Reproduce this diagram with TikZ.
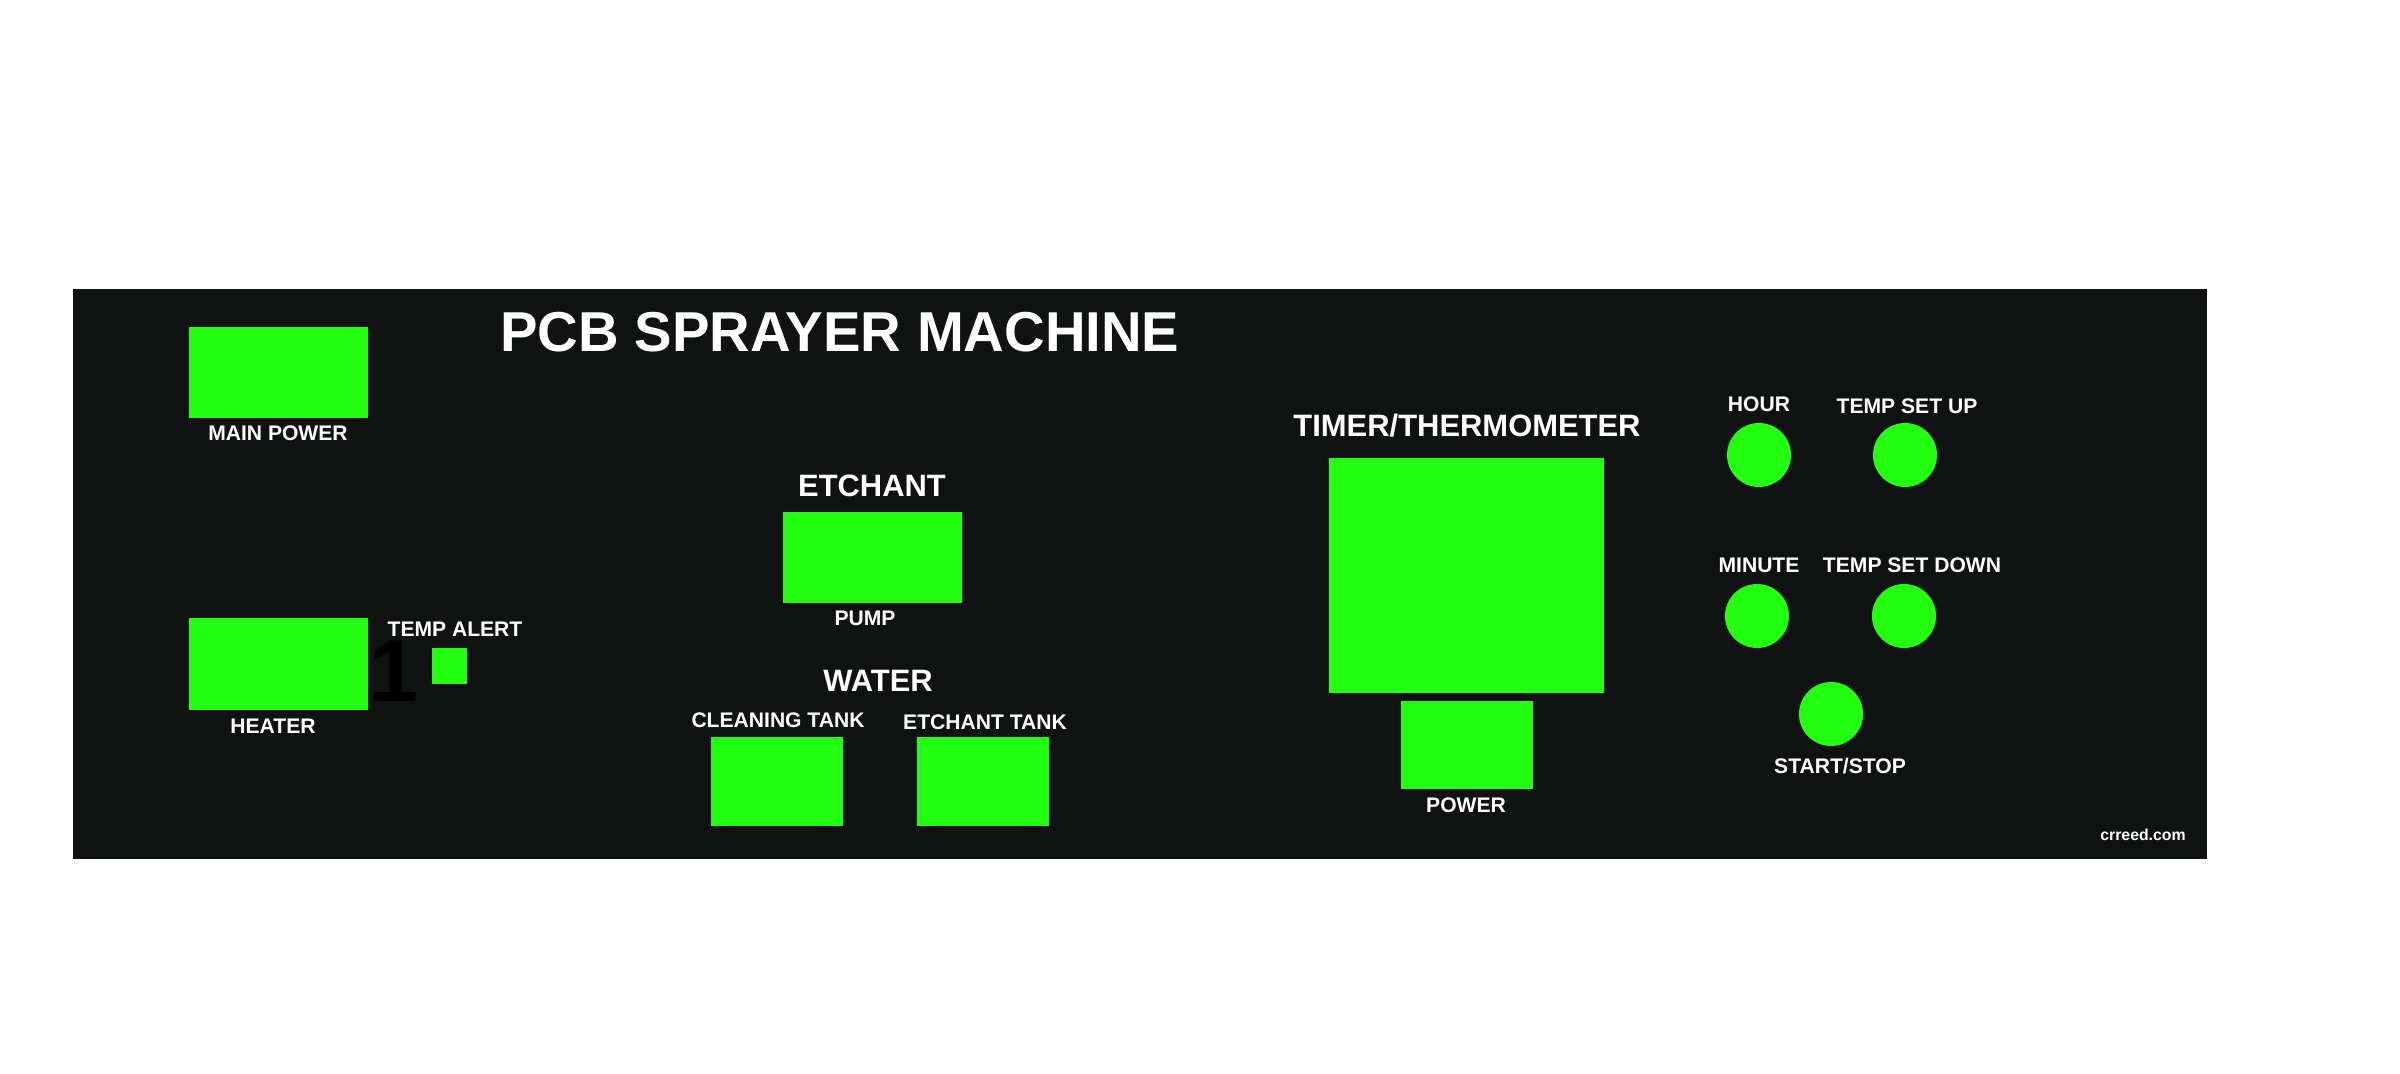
\documentclass[tikz,border=0pt]{standalone}
\usepackage{fontspec}
\setmainfont{Liberation Sans}
\usepackage{xcolor}
\usepackage{tikz}
\usetikzlibrary{positioning}

\definecolor{panelblack}{HTML}{101212}
\definecolor{ledgreen}{HTML}{22FF11}

\begin{document}
\begin{tikzpicture}[x=0.1mm,y=-0.1mm,
  switch/.style={rectangle,fill=ledgreen,inner sep=0pt},
  button/.style={circle,fill=ledgreen,inner sep=0pt,minimum size=6.4mm},
  lbl/.style={text=white,anchor=base,inner sep=0pt,font=\bfseries\fontsize{6}{6}\selectfont},
  head/.style={lbl,font=\bfseries\fontsize{8.8}{8.8}\selectfont},
  title/.style={lbl,font=\bfseries\fontsize{16}{16}\selectfont}]

    \useasboundingbox (0,0) rectangle (2400,1074);

    % The panel
	\fill[panelblack] (73,289) rectangle (2207,859);
	\node [title] at (840,352) (ttl) {PCB SPRAYER MACHINE};

	% Left column
	\node [switch,minimum width=17.9mm,minimum height=9.1mm] at (278.5,372.5) (mainpwr) {};
	\node [lbl] at (278,441) (mainpwrlbl) {MAIN POWER};
	\node [switch,minimum width=17.9mm,minimum height=9.2mm] at (278.5,664) (heater) {};
	\node [lbl] at (273,734) (heaterlbl) {HEATER};
	\node [anchor=base,inner sep=0pt,text=black,font=\bfseries\fontsize{25}{25}\selectfont] at (394,702) (one) {1};
	\node [switch,minimum width=3.5mm,minimum height=3.6mm] at (449.5,666) (alert) {};
	\node [lbl] at (455,637) (alertlbl) {TEMP ALERT};

	% Pump and tanks
	\node [head] at (872,497) (etchlbl) {ETCHANT};
	\node [switch,minimum width=17.9mm,minimum height=9.1mm] at (872.5,557.5) (pump) {};
	\node [lbl] at (865,626) (pumplbl) {PUMP};
	\node [head] at (878,692) (waterlbl) {WATER};
	\node [lbl] at (778,728) (cleanlbl) {CLEANING TANK};
	\node [lbl] at (985,730) (etchtanklbl) {ETCHANT TANK};
	\node [switch,minimum width=13.2mm,minimum height=8.9mm] at (777,781.5) (clean) {};
	\node [switch,minimum width=13.2mm,minimum height=8.9mm] at (983,781.5) (etchtank) {};

	% Timer
	\node [head] at (1467,437) (timerlbl) {TIMER/THERMOMETER};
	\node [switch,minimum width=27.5mm,minimum height=23.5mm] at (1466.5,575.5) (timer) {};
	\node [switch,minimum width=13.2mm,minimum height=8.8mm] at (1467,745) (tpower) {};
	\node [lbl] at (1466,813) (tpowerlbl) {POWER};

	% Buttons
	\node [lbl] at (1759,412) (hourlbl) {HOUR};
	\node [button] at (1759,455) (hour) {};
	\node [lbl] at (1907,414) (uplbl) {TEMP SET UP};
	\node [button] at (1905,455) (up) {};
	\node [lbl] at (1759,573) (minlbl) {MINUTE};
	\node [button] at (1757,616) (min) {};
	\node [lbl] at (1912,573) (downlbl) {TEMP SET DOWN};
	\node [button] at (1904,616) (down) {};
	\node [button] at (1831,714) (start) {};
	\node [lbl] at (1840,774) (startlbl) {START/STOP};

	\node [lbl,font=\bfseries\fontsize{4.5}{4.5}\selectfont] at (2143,841) (web) {crreed.com};

\end{tikzpicture}
\end{document}
